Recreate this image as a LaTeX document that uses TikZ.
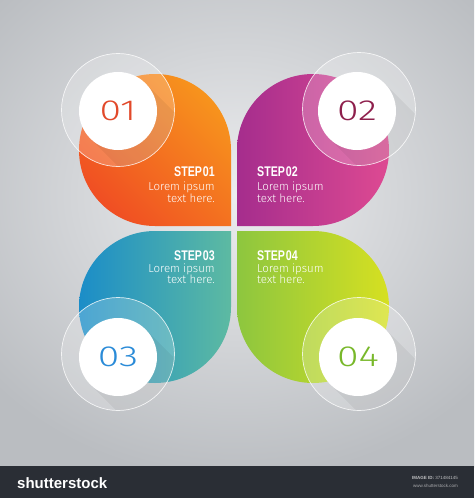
\documentclass[tikz,border=0pt]{standalone}
\usepackage{fontspec}
\setmainfont{Liberation Sans}
\newfontfamily\lightfont{Fira Sans Light}
\newfontfamily\stepfont{Liberation Sans}[FakeStretch=0.76]
\newfontfamily\numfont{Fira Sans Light}[FakeStretch=1.35]
\definecolor{bgin}{HTML}{ECEDEF}
\definecolor{bgout}{HTML}{BABDC1}
\definecolor{orangeA}{HTML}{F04E23}
\definecolor{orangeB}{HTML}{F7941D}
\definecolor{magA}{HTML}{A52D8D}
\definecolor{magB}{HTML}{DE4A92}
\definecolor{tealA}{HTML}{1B8DC8}
\definecolor{tealB}{HTML}{5DBAA2}
\definecolor{greenA}{HTML}{8DC63F}
\definecolor{greenB}{HTML}{D6E021}
\definecolor{numA}{HTML}{E2492A}
\definecolor{numB}{HTML}{8E1F4C}
\definecolor{numC}{HTML}{2A8BD8}
\definecolor{numD}{HTML}{78B82A}
\definecolor{barcol}{HTML}{2A2E35}
\tikzset{
  glass/.style={circle, minimum size=113pt, fill=white, fill opacity=0.22,
    draw=white, draw opacity=0.8, line width=0.7pt},
  disc/.style={circle, minimum size=78pt, fill=white,
    font=\numfont\fontsize{29}{29}\selectfont},
  longshadow/.style={black, opacity=0.05},
  steptitle/.style={font=\stepfont\bfseries\fontsize{14}{14}\selectfont, text=white},
  stepbody/.style={font=\lightfont\fontsize{11.5}{11.5}\selectfont, text=white}}

\begin{document}
\begin{tikzpicture}[x=1pt,y=1pt]
\tikzstyle{every node}+=[inner sep=0pt]
\useasboundingbox (0,0) rectangle (474,-498);
% background
\begin{scope}
\clip (0,0) rectangle (474,-467);
\shade [inner color=bgin, outer color=bgout] (-90,90) rectangle (564,-480);
\end{scope}
\fill [barcol] (0,-466) rectangle (474,-498);
\node [anchor=base west, text=white, font=\bfseries\fontsize{15}{15}\selectfont] (brand) at (17,-488) {shutterstock};
\node [anchor=base east, text=white!70!barcol, font=\fontsize{4.5}{5}\selectfont] (imageid) at (458,-479) {\textbf{IMAGE ID:} 371484145};
\node [anchor=base east, text=white!60!barcol, font=\fontsize{4.5}{5}\selectfont] (site) at (458,-487) {www.shutterstock.com};
% petals
\shade [top color=orangeB, bottom color=orangeA, shading angle=-45] (231,-226) -- (155,-226) arc (270:0:76) -- cycle;
\shade [left color=magA, right color=magB] (237,-226) -- (313,-226) arc (-90:180:76) -- cycle;
\shade [left color=tealA, right color=tealB] (231,-231) -- (155,-231) arc (90:360:76) -- cycle;
\shade [left color=greenA, right color=greenB] (237,-231) -- (313,-231) arc (90:-180:76) -- cycle;
% step 01
\node [glass] (glass1) at (118,-110) {};
\begin{scope}
\clip (glass1.center) circle (56);
\fill [longshadow, shift={(118,-111)}, rotate=-45] (0,-39) rectangle (60,39);
\end{scope}
\node [disc, text=numA] (disc1) at (118,-111) {01};
\node [steptitle, anchor=base east] (title1) at (215,-176) {STEP\kern1pt 01};
\node [stepbody, anchor=base east] (body1a) at (215,-190) {Lorem ipsum};
\node [stepbody, anchor=base east] (body1b) at ([yshift=-12pt]body1a.base east) {text here.};
% step 02
\node [glass] (glass2) at (359,-109) {};
\begin{scope}
\clip (glass2.center) circle (56);
\fill [longshadow, shift={(357,-111)}, rotate=-45] (0,-39) rectangle (60,39);
\end{scope}
\node [disc, text=numB] (disc2) at (357,-111) {02};
\node [steptitle, anchor=base west] (title2) at (257,-176) {STEP\kern1pt 02};
\node [stepbody, anchor=base west] (body2a) at (257,-190) {Lorem ipsum};
\node [stepbody, anchor=base west] (body2b) at ([yshift=-12pt]body2a.base west) {text here.};
% step 03
\node [glass] (glass3) at (118,-354) {};
\begin{scope}
\clip (glass3.center) circle (56);
\fill [longshadow, shift={(118,-357)}, rotate=-45] (0,-39) rectangle (60,39);
\end{scope}
\node [disc, text=numC] (disc3) at (118,-357) {03};
\node [steptitle, anchor=base east] (title3) at (215,-260) {STEP\kern1pt 03};
\node [stepbody, anchor=base east] (body3a) at (215,-272) {Lorem ipsum};
\node [stepbody, anchor=base east] (body3b) at ([yshift=-11.5pt]body3a.base east) {text here.};
% step 04
\node [glass] (glass4) at (359,-354) {};
\begin{scope}
\clip (glass4.center) circle (56);
\fill [longshadow, shift={(358,-357)}, rotate=-45] (0,-39) rectangle (60,39);
\end{scope}
\node [disc, text=numD] (disc4) at (358,-357) {04};
\node [steptitle, anchor=base west] (title4) at (257,-260) {STEP\kern1pt 04};
\node [stepbody, anchor=base west] (body4a) at (257,-272) {Lorem ipsum};
\node [stepbody, anchor=base west] (body4b) at ([yshift=-11.5pt]body4a.base west) {text here.};
\end{tikzpicture}
\end{document}
